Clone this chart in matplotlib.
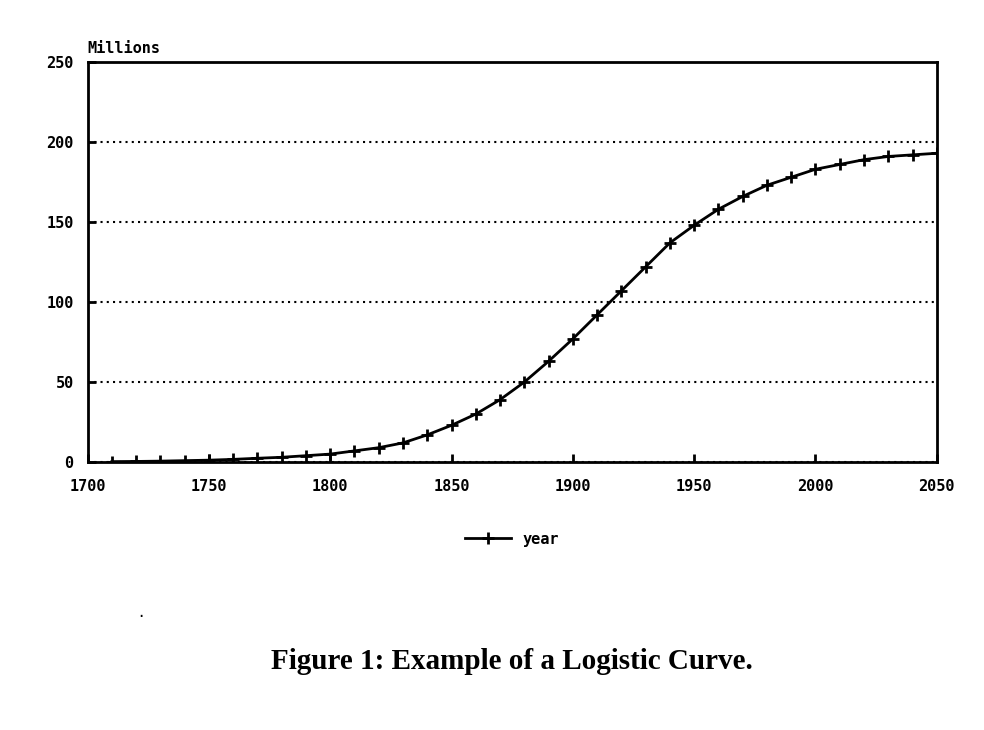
import matplotlib
matplotlib.use("Agg")
import matplotlib.pyplot as plt

years = list(range(1710, 2051, 10))
values = [0.3, 0.4, 0.6, 0.9, 1.2, 1.7, 2.4, 3.0, 4.0, 5.0, 7.0, 9.0, 12.0, 17.0, 23.0,
          30.0, 39.0, 50.0, 63.0, 77.0, 92.0, 107.0, 122.0, 137.0, 148.0, 158.0, 166.0,
          173.0, 178.0, 183.0, 186.0, 189.0, 191.0, 192.0, 193.0]
xticks = [1700, 1750, 1800, 1850, 1900, 1950, 2000, 2050]
yticks = [0, 50, 100, 150, 200, 250]

fig = plt.figure(figsize=(9.84, 7.30), dpi=100)
ax = fig.add_axes([0.089, 0.367, 0.863, 0.548])
ax.plot(years, values, color="black", lw=2, marker="+", ms=8, mew=2, label="year")
ax.set_xlim(1700, 2050)
ax.set_ylim(0, 250)
ax.set_xticks(xticks)
ax.set_yticks(yticks)
mono = dict(family="DejaVu Sans Mono", weight="bold", size=11)
ax.set_xticklabels([str(t) for t in xticks], **mono)
ax.set_yticklabels([str(t) for t in yticks], **mono)
ax.tick_params(direction="in", length=6, width=2)
ax.tick_params(axis="x", pad=12)
ax.tick_params(axis="y", pad=10)
for s in ax.spines.values():
    s.set_linewidth(2)
ax.yaxis.grid(True, linestyle=(0, (1, 2)), color="black", lw=1.5)
ax.text(0.0, 1.015, "Millions", transform=ax.transAxes, ha="left", va="bottom", **mono)
ax.legend(loc="upper center", bbox_to_anchor=(0.5, -0.14), frameon=False, handlelength=3,
          prop=dict(family="DejaVu Sans Mono", weight="bold", size=11))
fig.text(0.14, 0.155, ".", fontsize=12)
fig.text(0.52, 0.083, "Figure 1: Example of a Logistic Curve.", ha="center",
         family="Liberation Serif", weight="bold", fontsize=21)
fig.savefig("out.png", dpi=100)
